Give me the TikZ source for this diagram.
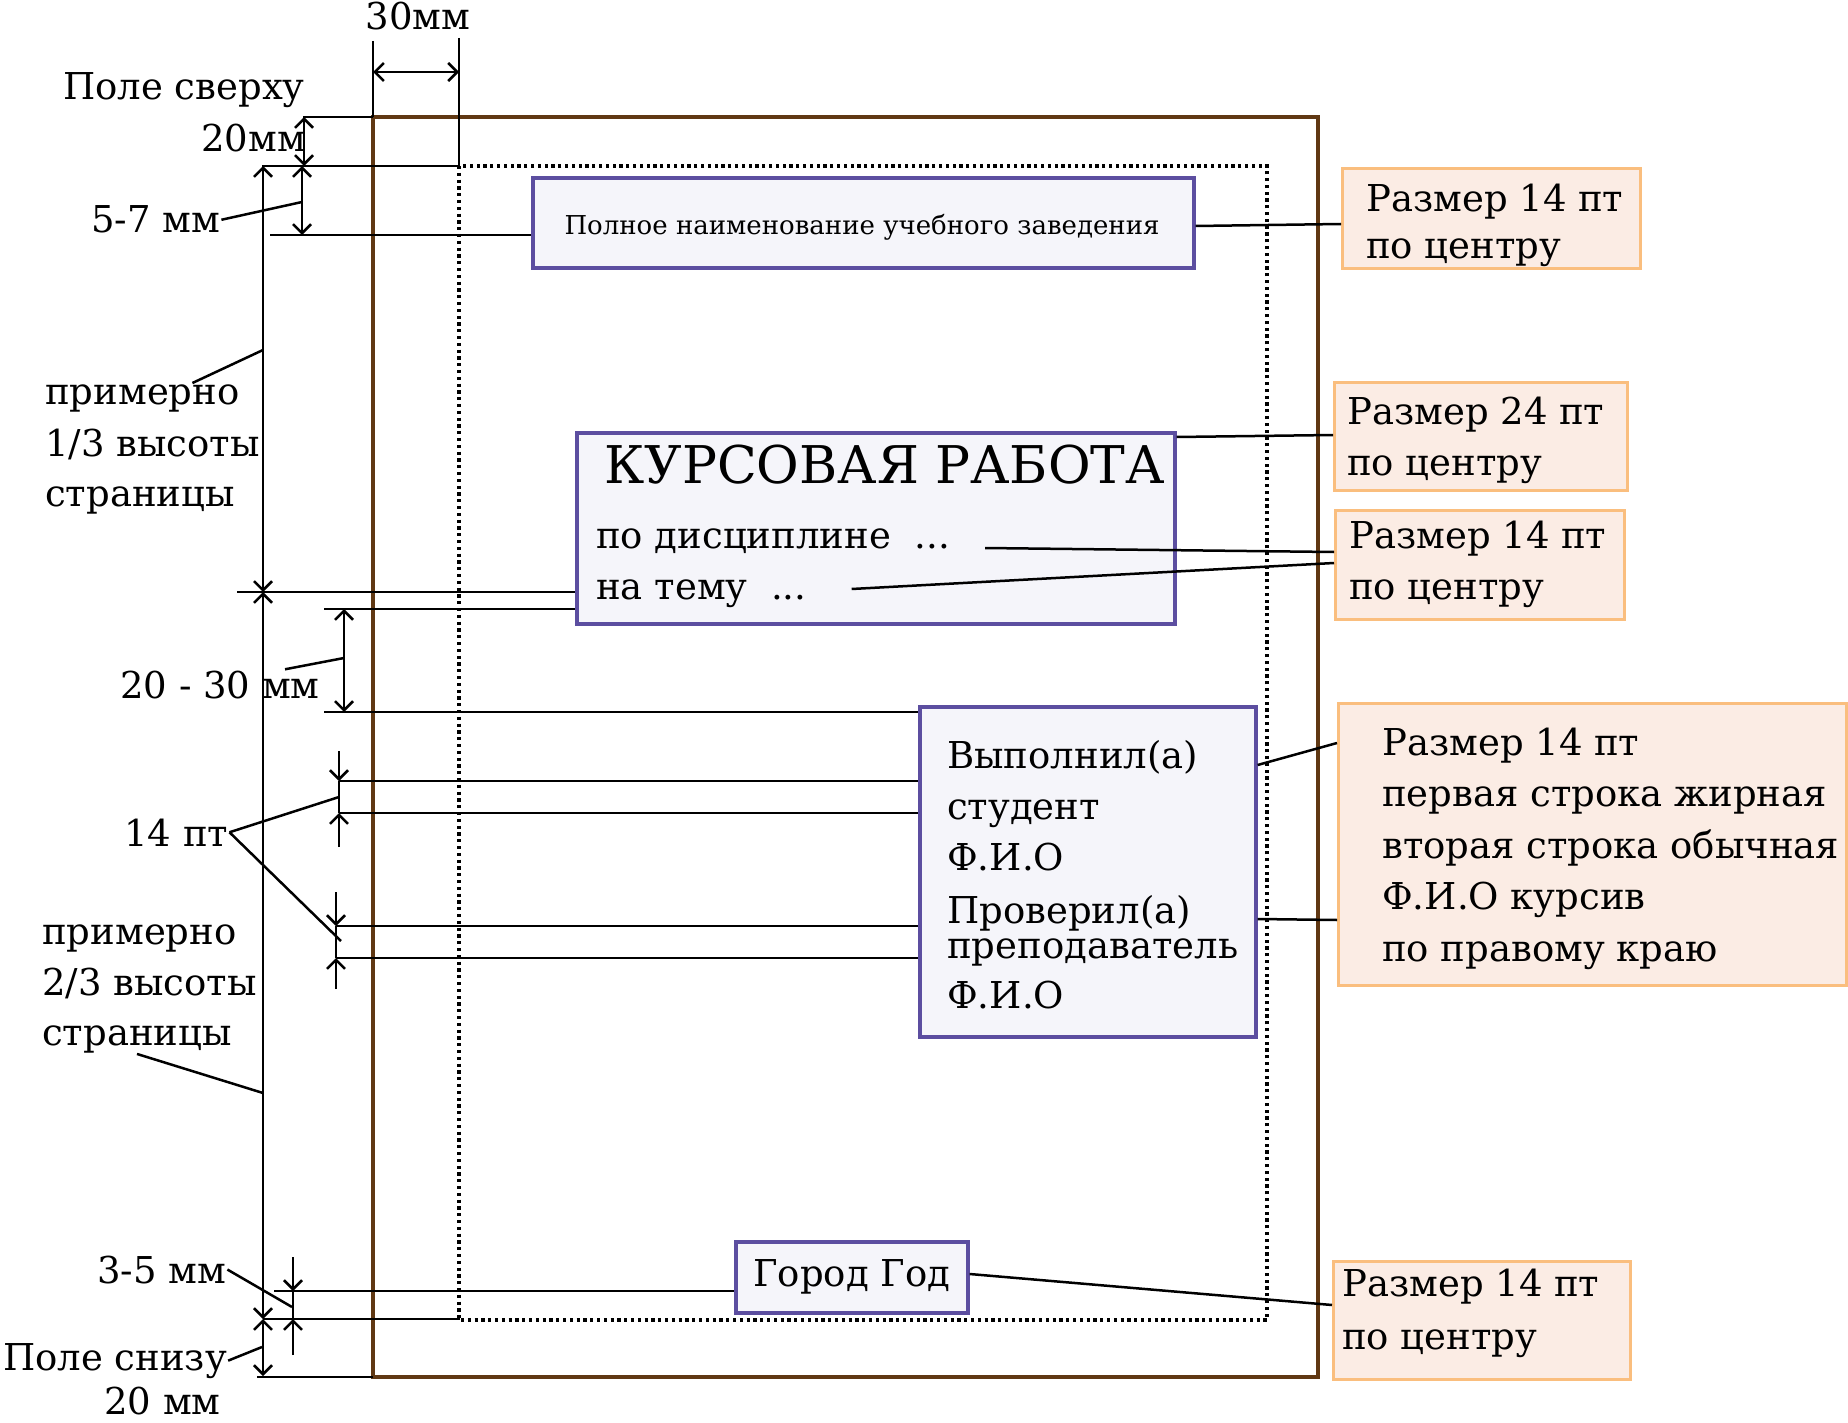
\documentclass[tikz,border=0pt]{standalone}
\usepackage{fontspec}
\setmainfont{DejaVu Serif}
\usetikzlibrary{arrows.meta}

\definecolor{pagebrown}{RGB}{96,56,19}
\definecolor{boxviolet}{RGB}{92,78,160}
\definecolor{boxfill}{RGB}{245,245,250}
\definecolor{noteorange}{RGB}{250,190,126}
\definecolor{notefill}{RGB}{251,236,228}

\tikzset{
    lbl/.style={font=\fontsize{18.5}{22}\selectfont, inner sep=0pt, anchor=base west},
    tbox/.style={draw=boxviolet, line width=1.8pt, fill=boxfill, anchor=north west, inner sep=0pt},
    note/.style={draw=noteorange, line width=1.3pt, fill=notefill, anchor=north west, inner sep=0pt},
    dimarr/.style={<->},
}

\begin{document}
\begin{tikzpicture}[x=0.5pt, y=-0.5pt, line width=1.25pt,
        >={Straight Barb[length=4.5pt,width=9pt]}]
    \useasboundingbox (0,0) rectangle (1848,1423);

    % page and text field
    \draw[pagebrown, line width=1.9pt] (373,117) rectangle (1318,1377);
    \draw[dash pattern=on 1.6pt off 1.8pt, line width=1.7pt] (459,166) rectangle (1267,1320);

    % boxes on the page
    \node[tbox, minimum width=330.5pt, minimum height=45pt] (inst) at (531,176) {};
    \node[anchor=base, inner sep=0pt, font=\fontsize{13}{15}\selectfont] (instT) at (862,235)
          {Полное наименование учебного заведения};
    \node[tbox, minimum width=299pt, minimum height=95.5pt] (kurs) at (575,431) {};
    \node[tbox, minimum width=168pt, minimum height=165pt] (fio) at (918,705) {};
    \node[tbox, minimum width=116pt, minimum height=35.5pt,
          font=\fontsize{18.5}{22}\selectfont] (city) at (734,1240) {Город Год};

    \node[anchor=base west, inner sep=0pt, font=\fontsize{26}{30}\selectfont] (kursT) at (603,483) {КУРСОВАЯ РАБОТА};
    \node[lbl] (disc) at (595,548) {по дисциплине\ \ ...};
    \node[lbl] (topic) at (595,599) {на тему\ \ ...};

    \node[lbl] (fio1) at (946,768) {Выполнил(а)};
    \node[lbl] (fio2) at (946,819) {студент};
    \node[lbl] (fio3) at (946,870) {Ф.И.О};
    \node[lbl] (fio4) at (946,923) {Проверил(а)};
    \node[lbl] (fio5) at (946,958) {преподаватель};
    \node[lbl] (fio6) at (946,1008) {Ф.И.О};

    % notes on the right
    \node[note, minimum width=149pt, minimum height=50pt] (szA) at (1341,167) {};
    \node[note, minimum width=146.5pt, minimum height=54pt] (szB) at (1333,381) {};
    \node[note, minimum width=144.5pt, minimum height=54.5pt] (szC) at (1334,509) {};
    \node[note, minimum width=254pt, minimum height=141pt] (szD) at (1337,702) {};
    \node[note, minimum width=148.5pt, minimum height=59pt] (szE) at (1332,1260) {};

    \foreach \ln [count=\i] in {Размер 14 пт, по центру}
        \node[lbl] (szA-\i) at (1365,{212+47*(\i-1)}) {\ln};
    \foreach \ln [count=\i] in {Размер 24 пт, по центру}
        \node[lbl] (szB-\i) at (1346,{424+51*(\i-1)}) {\ln};
    \foreach \ln [count=\i] in {Размер 14 пт, по центру}
        \node[lbl] (szC-\i) at (1348,{548+51*(\i-1)}) {\ln};
    \foreach \ln [count=\i] in {Размер 14 пт, первая строка жирная, вторая строка обычная, Ф.И.О курсив, по правому краю}
        \node[lbl] (szD-\i) at (1381,{755+51.5*(\i-1)}) {\ln};
    \foreach \ln [count=\i] in {Размер 14 пт, по центру}
        \node[lbl] (szE-\i) at (1341,{1296+53*(\i-1)}) {\ln};

    % leaders to the notes
    \draw (inst.east |- 0,226) -- (szA.west |- 0,224);
    \draw (kurs.east |- 0,437) -- (szB.west |- 0,435);
    \draw ([xshift=17pt]disc.base east) -- (szC.west |- 0,552);
    \draw ([xshift=22pt,yshift=5pt]topic.base east) -- (szC.west |- 0,563);
    \draw (fio.east |- 0,765) -- (szD.west |- 0,743);
    \draw (fio.east |- 0,919) -- (szD.west |- 0,920);
    \draw (city.east |- 0,1274) -- (szE.west |- 0,1305);

    % labels on the left
    \node[anchor=base, inner sep=0pt, font=\fontsize{18.5}{22}\selectfont] (t30) at (418,30) {30мм};
    \node[lbl] (tTop) at (62,100) {Поле сверху};
    \node[lbl] (tTop2) at (200,152) {20мм};
    \node[lbl] (t57) at (90,233) {5-7 мм};
    \node[lbl] (t13a) at (44,404) {примерно};
    \node[lbl] (t13b) at (44,456) {1/3 высоты};
    \node[lbl] (t13c) at (44,506) {страницы};
    \node[lbl] (t2030) at (119,698) {20 - 30 мм};
    \node[lbl] (t14) at (123,846) {14 пт};
    \node[lbl] (t23a) at (41,944) {примерно};
    \node[lbl] (t23b) at (41,995) {2/3 высоты};
    \node[lbl] (t23c) at (41,1045) {страницы};
    \node[lbl] (t35) at (96,1283) {3-5 мм};
    \node[lbl] (tBot) at (2,1370) {Поле снизу};
    \node[lbl] (tBot2) at (103,1414) {20 мм};

    % 30 mm
    \draw (373,41) -- (373,117);
    \draw (459,38) -- (459,166);
    \draw[dimarr] (373,72) -- (459,72);

    % top field and title spacing
    \draw (303,117) -- (373,117);
    \draw[dimarr] (304,117) -- (304,166);
    \draw (262,166) -- (459,166);
    \draw[dimarr] (302,166) -- (302,235);
    \draw (270,235) -- (inst.west |- 0,235);

    % one third and two thirds of the page
    \draw[dimarr] (263,166) -- (263,592);
    \draw (237,592) -- (kurs.west |- 0,592);
    \draw[dimarr] (263,592) -- (263,1319);
    \draw (324,609) -- (kurs.west |- 0,609);
    \draw[dimarr] (344,609) -- (344,712);
    \draw (324,712) -- (fio.west |- 0,712);

    % 14 pt lines
    \draw[->] (339,751) -- (339,781);
    \draw (339,781) -- (339,813);
    \draw[->] (339,847) -- (339,813);
    \draw (339,781) -- (fio.west |- 0,781);
    \draw (339,813) -- (fio.west |- 0,813);
    \draw[->] (336,892) -- (336,926);
    \draw (336,926) -- (336,958);
    \draw[->] (336,989) -- (336,958);
    \draw (336,926) -- (fio.west |- 0,926);
    \draw (336,958) -- (fio.west |- 0,958);

    % bottom
    \draw (274,1291) -- (city.west |- 0,1291);
    \draw[->] (293,1257) -- (293,1291);
    \draw (293,1291) -- (293,1319);
    \draw[->] (293,1355) -- (293,1319);
    \draw (263,1319) -- (460,1319);
    \draw[dimarr] (263,1319) -- (263,1376);
    \draw (257,1377) -- (373,1377);

    % leaders from the labels
    \draw (t57.east) -- (302,202);
    \draw ([xshift=25pt]t13a.north) -- (263,350);
    \draw ([xshift=-18pt]t2030.north east) -- (344,658);
    \draw (t14.east) -- (339,797);
    \draw (t14.east) -- (341,941);
    \draw (t23c.south) -- (263,1093);
    \draw (t35.east) -- (292,1307);
    \draw (tBot.east) -- (262,1347);
\end{tikzpicture}
\end{document}
